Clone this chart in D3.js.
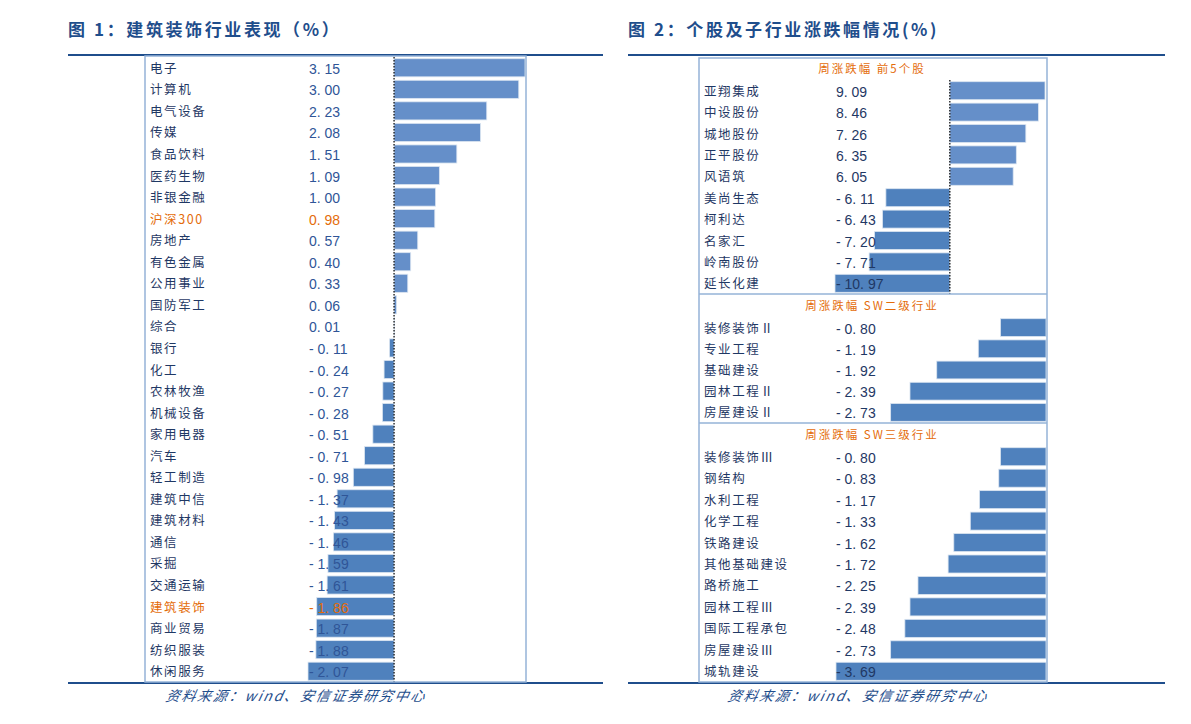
<!DOCTYPE html>
<html>
<head>
<meta charset="utf-8">
<script src="https://cdn.jsdelivr.net/npm/d3@7"></script>
<style>
  html, body { margin: 0; padding: 0; background: #fff; }
  svg { display: block; }
</style>
</head>
<body>
<svg id="chart" width="1191" height="724"></svg>
<script>
// 图1 data
var industryNames = ["电子", "计算机", "电气设备", "传媒", "食品饮料", "医药生物", "非银金融", "沪深300",
  "房地产", "有色金属", "公用事业", "国防军工", "综合", "银行", "化工", "农林牧渔", "机械设备",
  "家用电器", "汽车", "轻工制造", "建筑中信", "建筑材料", "通信", "采掘", "交通运输", "建筑装饰",
  "商业贸易", "纺织服装", "休闲服务"];
var industryValues = [3.15, 3.00, 2.23, 2.08, 1.51, 1.09, 1.00, 0.98, 0.57, 0.40, 0.33, 0.06, 0.01,
  -0.11, -0.24, -0.27, -0.28, -0.51, -0.71, -0.98, -1.37, -1.43, -1.46, -1.59, -1.61, -1.86,
  -1.87, -1.88, -2.07];
var highlighted = ["沪深300", "建筑装饰"];

// 图2 data
var stockNames = ["亚翔集成", "中设股份", "城地股份", "正平股份", "风语筑", "美尚生态", "柯利达", "名家汇", "岭南股份", "延长化建"];
var stockValues = [9.09, 8.46, 7.26, 6.35, 6.05, -6.11, -6.43, -7.20, -7.71, -10.97];
var sw2Names = ["装修装饰Ⅱ", "专业工程", "基础建设", "园林工程Ⅱ", "房屋建设Ⅱ"];
var sw2Values = [-0.80, -1.19, -1.92, -2.39, -2.73];
var sw3Names = ["装修装饰Ⅲ", "钢结构", "水利工程", "化学工程", "铁路建设", "其他基础建设", "路桥施工",
  "园林工程Ⅲ", "国际工程承包", "房屋建设Ⅲ", "城轨建设"];
var sw3Values = [-0.80, -0.83, -1.17, -1.33, -1.62, -1.72, -2.25, -2.39, -2.48, -2.73, -3.69];
var sectionTitles = ["周涨跌幅  前5个股", "周涨跌幅 SW二级行业", "周涨跌幅 SW三级行业"];

var navy = "#1f4e8c",
  nameColor = "#1f3864",
  orange = "#e46c0a",
  boxColor = "#95b3d7",
  cjk = "'Noto Sans CJK SC', sans-serif",
  latin = "'Liberation Sans', Arial, sans-serif";

var svg = d3.select("#chart");

var fmtValue = function(v) {
  // reference prints "- 1. 86" style
  return d3.format(".2f")(v).replace(".", ". ").replace(/[-\u2212]/, "- ");
};

var drawRows = function(parent, names, values, opt) {
  var g = parent.append("g");
  var y = d3.scaleBand().domain(names).range([opt.top, opt.bottom]).paddingInner(0.16).paddingOuter(0.08);
  var x = opt.x;
  var rows = names.map(function(n, i) { return { name: n, value: values[i] }; });

  g.selectAll("rect.bar").data(rows).enter().append("rect")
    .attr("class", "bar")
    .attr("x", function(d) { return x(Math.min(0, d.value)); })
    .attr("y", function(d) { return y(d.name); })
    .attr("width", function(d) { return Math.abs(x(d.value) - x(0)); })
    .attr("height", y.bandwidth())
    .attr("fill", function(d) { return d.value >= 0 ? "#658fc9" : "#4f81bd"; })
    .attr("stroke", "#dbe5f1")
    .attr("stroke-width", 0.8);

  if (opt.zeroLine) {
    g.append("line")
      .attr("x1", x(0)).attr("x2", x(0))
      .attr("y1", opt.top).attr("y2", opt.bottom)
      .attr("stroke", "#000").attr("stroke-width", 1.2)
      .attr("stroke-dasharray", "1.5,1.5");
  }

  var baseline = function(d) { return y(d.name) + y.bandwidth() / 2 + 5; };
  var col = function(d) { return highlighted.indexOf(d.name) >= 0 ? orange : null; };

  g.selectAll("text.name").data(rows).enter().append("text")
    .attr("class", "name")
    .attr("x", opt.nameX)
    .attr("y", baseline)
    .attr("font-family", cjk)
    .attr("font-size", 12.5)
    .attr("letter-spacing", 1.6)
    .attr("fill", function(d) { return col(d) || nameColor; })
    .text(function(d) { return d.name; });

  g.selectAll("text.val").data(rows).enter().append("text")
    .attr("class", "val")
    .attr("x", opt.valueX)
    .attr("y", function(d) { return baseline(d) + 1; })
    .attr("font-family", latin)
    .attr("font-size", 14)
    .attr("fill", function(d) { return col(d) || opt.valueColor; })
    .text(function(d) { return fmtValue(d.value); });
};

var drawFrame = function(left, right, title) {
  svg.append("text")
    .attr("x", left).attr("y", 36)
    .attr("font-family", cjk)
    .attr("font-weight", "bold")
    .attr("font-size", 17)
    .attr("letter-spacing", 2.6)
    .attr("fill", navy)
    .text(title);
  [55, 683].forEach(function(yy) {
    svg.append("line")
      .attr("x1", left).attr("x2", right)
      .attr("y1", yy).attr("y2", yy)
      .attr("stroke", navy).attr("stroke-width", 2);
  });
};

var drawSource = function(x) {
  svg.append("text")
    .attr("x", x).attr("y", 701)
    .attr("font-family", cjk)
    .attr("font-style", "italic")
    .attr("font-size", 14)
    .attr("letter-spacing", 1.8)
    .attr("fill", navy)
    .attr("transform", "skewX(-12)")
    .attr("transform-origin", x + " 701")
    .text("资料来源：wind、安信证券研究中心");
};

// ---- 图1 ----
drawFrame(68, 603, "图 1：建筑装饰行业表现（%）");
var g1 = svg.append("g");
var x1 = d3.scaleLinear().domain([d3.min(industryValues), d3.max(industryValues)]).range([308, 525]);
drawRows(g1, industryNames, industryValues, { top: 57, bottom: 682, x: x1, nameX: 150, valueX: 309, zeroLine: true, valueColor: "#2f5597" });
g1.append("rect")
  .attr("x", 145).attr("y", 56).attr("width", 381).attr("height", 626)
  .attr("fill", "none").attr("stroke", boxColor).attr("stroke-width", 1.5);
drawSource(165);

// ---- 图2 ----
drawFrame(628, 1165, "图 2：个股及子行业涨跌幅情况(%)");
var g2 = svg.append("g");
var xStock = d3.scaleLinear().domain([d3.min(stockValues), d3.max(stockValues)]).range([835, 1045]);
var xSw = d3.scaleLinear().domain([d3.min(sw3Values), 0]).range([836, 1046]);

var sections = [
  { names: stockNames, values: stockValues, x: xStock, top: 58, head: 80, bottom: 294, zero: true },
  { names: sw2Names, values: sw2Values, x: xSw, top: 294, head: 317, bottom: 423, zero: false },
  { names: sw3Names, values: sw3Values, x: xSw, top: 423, head: 446, bottom: 682, zero: false }
];
sections.forEach(function(s, i) {
  g2.append("text")
    .attr("x", 872).attr("y", (s.top + s.head) / 2 + 4)
    .attr("text-anchor", "middle")
    .attr("font-family", cjk)
    .attr("font-size", 11.5)
    .attr("letter-spacing", 2)
    .attr("fill", orange)
    .text(sectionTitles[i]);
  drawRows(g2, s.names, s.values, { top: s.head, bottom: s.bottom, x: s.x, nameX: 704, valueX: 836, zeroLine: s.zero, valueColor: "#1f3864" });
  if (i > 0) {
    g2.append("line")
      .attr("x1", 699).attr("x2", 1047)
      .attr("y1", s.top).attr("y2", s.top)
      .attr("stroke", boxColor).attr("stroke-width", 1.5);
  }
});
g2.append("rect")
  .attr("x", 699).attr("y", 58).attr("width", 348).attr("height", 624)
  .attr("fill", "none").attr("stroke", boxColor).attr("stroke-width", 1.5);
drawSource(727);
</script>
</body>
</html>
